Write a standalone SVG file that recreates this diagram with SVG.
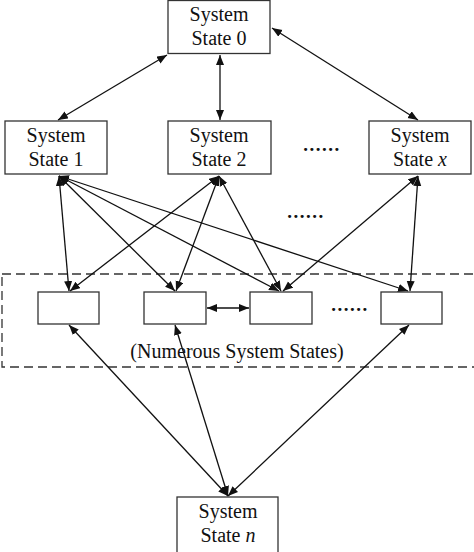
<svg xmlns="http://www.w3.org/2000/svg" width="474" height="552" viewBox="0 0 474 552">
<style>
.box{fill:#fff;stroke:#333;stroke-width:1.3}
.t{font-family:"Liberation Serif","Times New Roman",serif;font-size:20px;fill:#111;text-anchor:middle}
.c line{stroke:#111;stroke-width:1.3;marker-start:url(#ah);marker-end:url(#ah)}
.dots{font-family:"Liberation Serif",serif;font-size:19px;font-weight:bold;fill:#111;text-anchor:middle;letter-spacing:1.5px}
</style>
<defs>
<marker id="ah" markerUnits="userSpaceOnUse" markerWidth="12" markerHeight="10" refX="10" refY="4" orient="auto-start-reverse">
<path d="M0,0 L10,4 L0,8 z" fill="#111"/>
</marker>
</defs>
<rect x="2" y="274" width="480" height="93" fill="none" stroke="#333" stroke-width="1.3" stroke-dasharray="9,5"/>
<g id="n0"><rect class="box" x="168" y="0.5" width="102" height="53"/><text class="t" x="219" y="21">System</text><text class="t" x="219" y="45">State 0</text></g>
<g id="n1"><rect class="box" x="5" y="121" width="102" height="53"/><text class="t" x="56" y="142">System</text><text class="t" x="56" y="166">State 1</text></g>
<g id="n2"><rect class="box" x="168" y="121" width="103" height="53"/><text class="t" x="219" y="142">System</text><text class="t" x="219" y="166">State 2</text></g>
<g id="nx"><rect class="box" x="369" y="121" width="102" height="53"/><text class="t" x="420" y="142">System</text><text class="t" x="420" y="166">State <tspan font-style="italic">x</tspan></text></g>
<g id="a"><rect class="box" x="38" y="292" width="61" height="32"/></g>
<g id="b"><rect class="box" x="144" y="292" width="62" height="32"/></g>
<g id="c"><rect class="box" x="250" y="292" width="62" height="32"/></g>
<g id="d"><rect class="box" x="381" y="292" width="61" height="32"/></g>
<g id="nn"><rect class="box" x="177" y="497" width="101" height="60"/><text class="t" x="228" y="518">System</text><text class="t" x="228" y="542">State <tspan font-style="italic">n</tspan></text></g>
<text class="dots" x="322" y="151">......</text>
<text class="dots" x="306" y="218">......</text>
<text class="dots" x="350" y="311">......</text>
<text class="t" x="237" y="358">(Numerous System States)</text>
<g class="c" id="connectors">
<line x1="167" y1="55" x2="58" y2="120"/>
<line x1="220" y1="55" x2="220" y2="120"/>
<line x1="272" y1="28" x2="418" y2="120"/>
<line x1="59" y1="176" x2="69" y2="291"/>
<line x1="59" y1="176" x2="175" y2="291"/>
<line x1="59" y1="176" x2="279" y2="291"/>
<line x1="59" y1="176" x2="408" y2="291"/>
<line x1="219" y1="176" x2="70" y2="291"/>
<line x1="219" y1="176" x2="176" y2="291"/>
<line x1="219" y1="176" x2="281" y2="291"/>
<line x1="418" y1="176" x2="283" y2="291"/>
<line x1="418" y1="176" x2="410" y2="291"/>
<line x1="207" y1="308" x2="249" y2="308"/>
<line x1="228" y1="496" x2="69" y2="325"/>
<line x1="228" y1="496" x2="175" y2="325"/>
<line x1="228" y1="496" x2="409" y2="325"/>
</g>
</svg>
